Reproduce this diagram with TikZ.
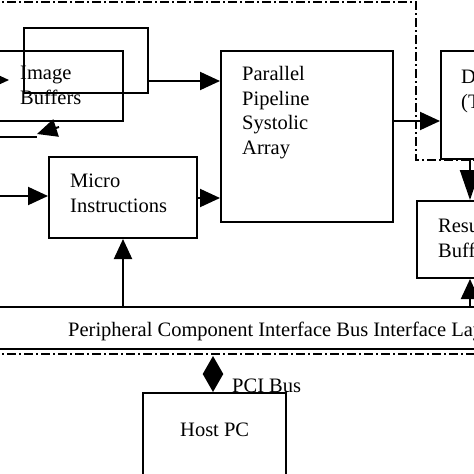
\documentclass[tikz,border=0pt]{standalone}
\usepackage{fontspec}
\setmainfont{Liberation Serif}
\usepackage{tikz}
\usetikzlibrary{arrows,arrows.meta}

\tikzset{
  blk/.style={draw, line width=2pt, anchor=north west, inner sep=0pt},
  txt/.style={anchor=base west, align=left, inner sep=0pt, font=\fontsize{20.5}{24.5}\selectfont},
  arr/.style={line width=2pt, -{Triangle[length=20pt,width=18pt]}},
  dashdot/.style={line width=2pt, dash pattern=on 9pt off 3pt on 2pt off 3pt}
}

\begin{document}
\begin{tikzpicture}[x=1pt,y=-1pt]
\useasboundingbox (0,0) rectangle (474,474);
\clip (0,0) rectangle (474,474);

\draw[dashdot] (-10,2) -- (416,2) -- (416,160) -- (490,160);
\draw[dashdot] (-10,354) -- (490,354);

\node[blk, minimum width=142pt, minimum height=70pt] (imgbuf) at (-20,50) {};
\node[blk, minimum width=124pt, minimum height=65pt] (imgback) at (23,27) {};
\node[txt] (imgtxt) at (20,104) {Image\\Buffers};

\node[blk, minimum width=148pt, minimum height=81pt] (micro) at (48,156) {};
\node[txt] (microtxt) at (70,212) {Micro\\Instructions};

\node[blk, minimum width=172pt, minimum height=171pt] (ppsa) at (220,50) {};
\node[txt] (ppsatxt) at (242,154) {Parallel\\Pipeline\\Systolic\\Array};

\node[blk, minimum width=60pt, minimum height=108pt] (dbox) at (440,50) {};
\node[txt] (dtxt) at (461,108) {D\\(T};

\node[blk, minimum width=84pt, minimum height=77pt] (result) at (416,200) {};
\node[txt] (resulttxt) at (438,257) {Result\\Buffers};

\node[blk, minimum width=520pt, minimum height=42pt] (bus) at (-20,306) {};
\node[txt] (bustxt) at (68,336) {Peripheral Component Interface Bus Interface Layer};

\node[blk, minimum width=143pt, minimum height=90pt] (host) at (142,392) {};
\node[txt] (hosttxt) at (180,436) {Host PC};
\node[txt] (pcitxt) at (232,392) {PCI Bus};

\coordinate (inimg) at (-10,80);
\coordinate (tipimg) at (9,80);
\coordinate (inmicro) at (-10,196);
\coordinate (fbout) at (-10,137);
\coordinate (fbtail) at (59,127);
\coordinate (fbtip) at (37,134);
\coordinate (pcitop) at (213,356);

\draw[arr] (inimg) -- (tipimg);
\draw[arr] (imgback.east |- 0,81) -- (ppsa.west |- 0,81);
\draw[line width=2pt] (fbout) -- (fbtip |- fbout);
\draw[arr] (fbtail) -- (fbtip);
\draw[arr] (inmicro) -- (micro.west |- inmicro);
\draw[arr] (micro.east |- 0,198) -- (ppsa.west |- 0,198);
\draw[arr] (ppsa.east |- 0,121) -- (dbox.west |- 0,121);
\draw[line width=2pt, -{Triangle[length=30pt,width=20pt]}] (dbox.south -| 470,0) -- (result.north -| 470,0);
\draw[arr] (bus.north -| 470,0) -- (result.south -| 470,0);
\draw[arr] (bus.north -| micro.south) -- (micro.south);
\draw[line width=2pt, {Triangle[length=18pt,width=20pt]}-{Triangle[length=18pt,width=20pt]}] (pcitop) -- (pcitop |- host.north);
\end{tikzpicture}
\end{document}
